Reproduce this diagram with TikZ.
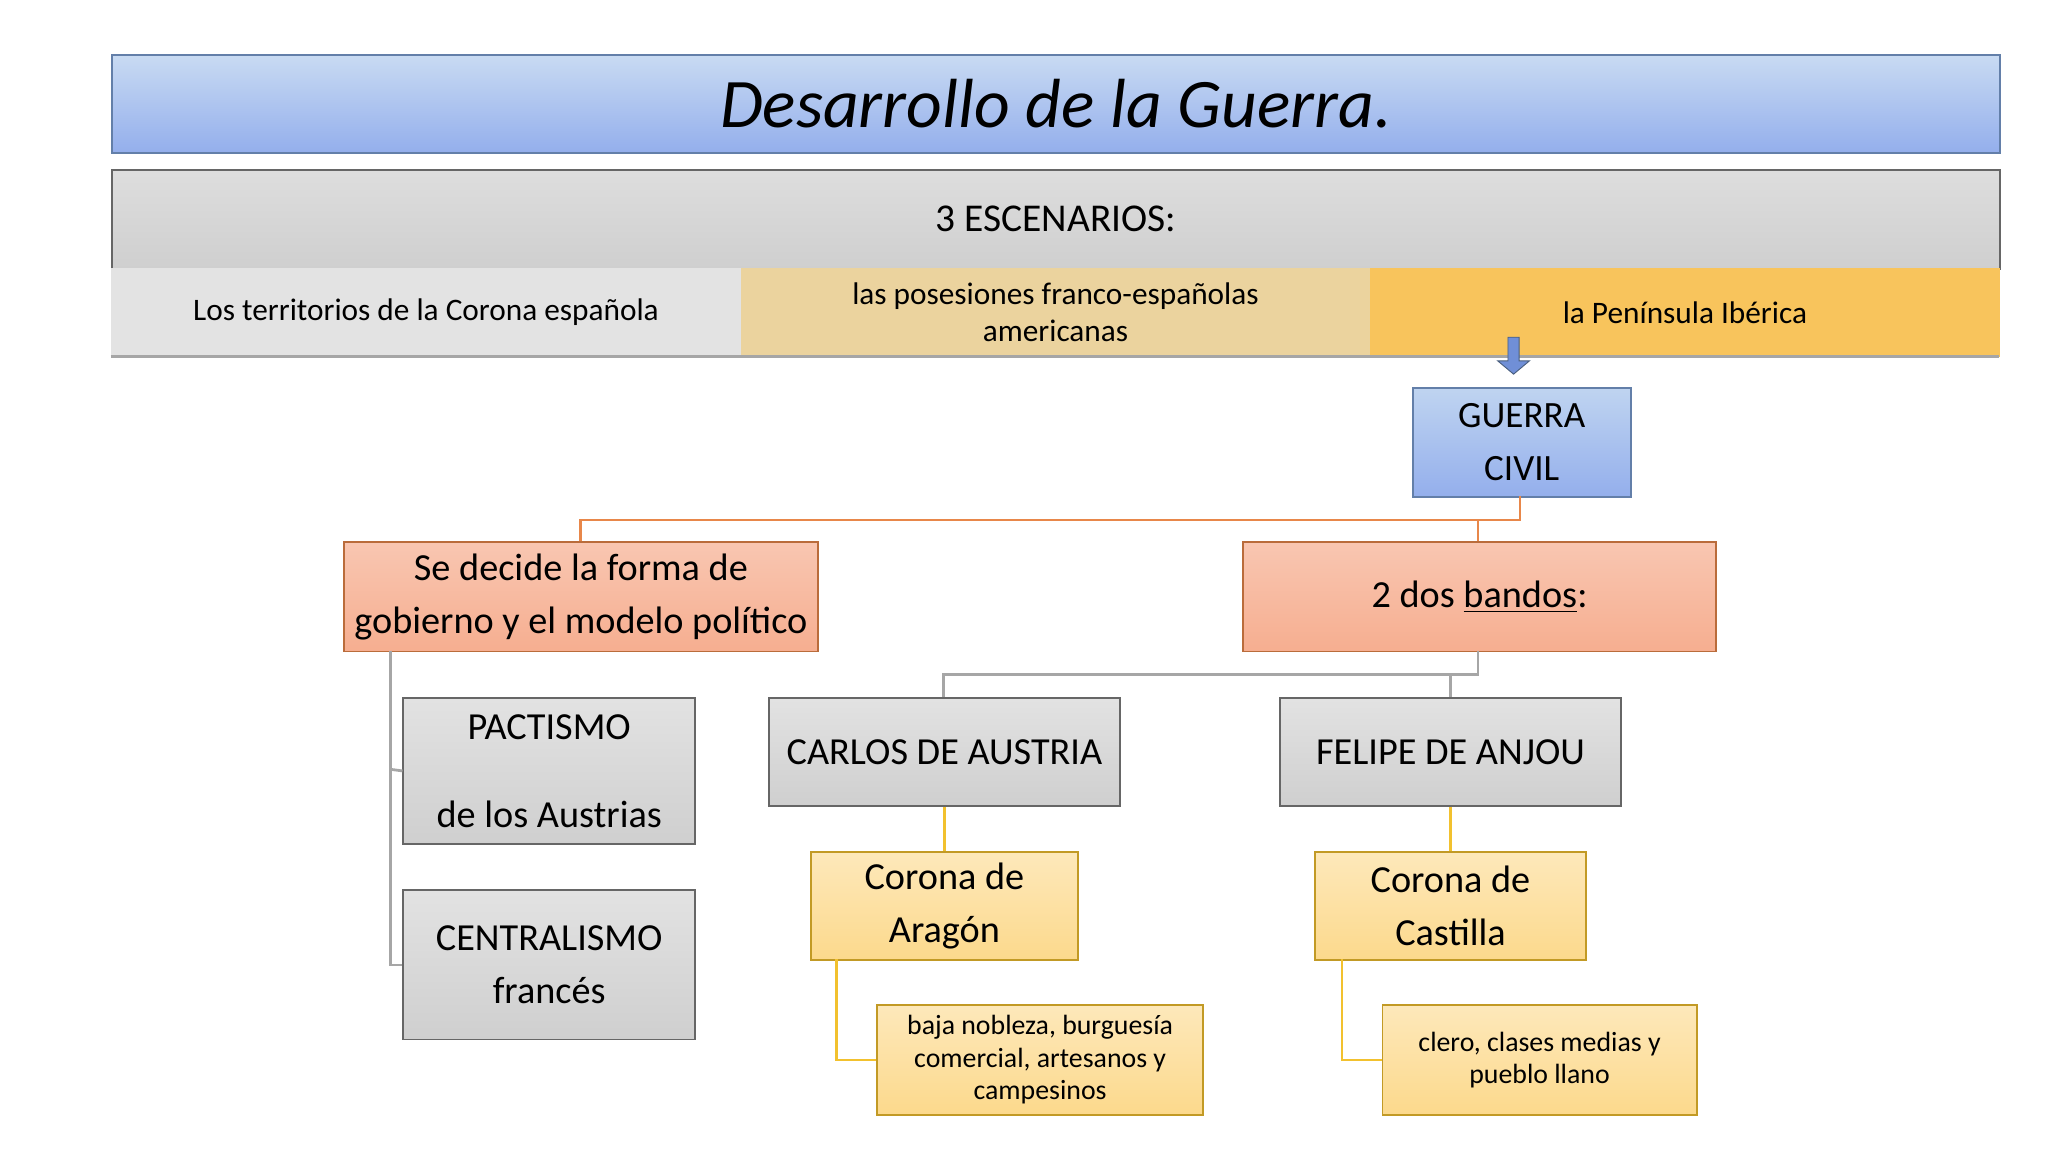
\documentclass[tikz,border=0pt]{standalone}
\usepackage{fontspec}
\setmainfont{Carlito}
\usetikzlibrary{positioning,shapes.arrows}
\definecolor{bluebox}{HTML}{A4C2EA}
\definecolor{blueline}{HTML}{7C9FD3}
\definecolor{salmon}{HTML}{F6AE90}
\definecolor{grayfill}{HTML}{CFCFCF}
\definecolor{yellowbox}{HTML}{FCD98C}
\definecolor{tanfill}{HTML}{EBD39E}
\definecolor{orangefill}{HTML}{F8C45C}
\definecolor{orangeline}{HTML}{E8874A}
\definecolor{yellowline}{HTML}{F2C12E}
\tikzset{
  boxnode/.style={draw=#1!80!black, line width=0.8pt, align=center, inner sep=0pt, anchor=north west},
  bluenode/.style={boxnode=blueline, top color=bluebox!70!white, bottom color=bluebox!90!blue, font=\fontsize{16}{23}\selectfont},
  salmonnode/.style={boxnode=orangeline, top color=salmon!70!white, bottom color=salmon, font=\fontsize{16.5}{23}\selectfont},
  graynode/.style={boxnode=gray, top color=grayfill!60!white, bottom color=grayfill, font=\fontsize{16.5}{23}\selectfont},
  yellownode/.style={boxnode=yellowline, top color=yellowbox!60!white, bottom color=yellowbox, font=\fontsize{16.5}{23}\selectfont},
  orangelink/.style={orangeline, line width=1pt},
  graylink/.style={gray!70, line width=1.2pt},
  yellowlink/.style={yellowline, line width=1pt},
}
\begin{document}
\begin{tikzpicture}[x=0.02cm,y=-0.02cm]
  \useasboundingbox[fill=white] (0,0) rectangle (1552,873);
  % title band
  \node[boxnode=blueline, top color=bluebox!60!white, bottom color=bluebox!90!blue,
    minimum width=1431*0.02cm, minimum height=74*0.02cm,
    font=\fontsize{30}{34}\itshape\selectfont] (title) at (84,41) {Desarrollo de la Guerra.};
  % scenarios
  \node[boxnode=gray, top color=grayfill!70!white, bottom color=grayfill,
    minimum width=1431*0.02cm, minimum height=75*0.02cm,
    font=\fontsize{17}{22}\selectfont] (esc) at (84,128) {3 ESCENARIOS:};
  \node[anchor=north west, fill=gray!22, minimum width=477*0.02cm, minimum height=67*0.02cm,
    inner sep=0pt, font=\fontsize{13.5}{16}\selectfont] (terr) at (84,203) {Los territorios de la Corona española};
  \node[anchor=north west, fill=tanfill, minimum width=477*0.02cm, minimum height=67*0.02cm,
    inner sep=0pt, align=center, font=\fontsize{13.5}{16}\selectfont] (pos) at (561,203) {las posesiones franco-españolas\\americanas};
  \node[anchor=north west, fill=orangefill, minimum width=477*0.02cm, minimum height=67*0.02cm,
    inner sep=0pt, font=\fontsize{13.5}{16}\selectfont] (pen) at (1038,203) {la Península Ibérica};
  \draw[gray!70, line width=1.2pt] (84,270) -- (1515,270);
  \node[single arrow, shape border rotate=270, fill=blueline!90!blue, draw=blueline!60!black,
    minimum height=28*0.02cm, minimum width=24*0.02cm, single arrow head extend=4pt,
    single arrow tip angle=100, inner sep=2pt, anchor=tip] (arr) at (1147,284) {};
  % nodes
  \node[bluenode, minimum width=165*0.02cm, minimum height=83*0.02cm] (guerra) at (1070,293) {GUERRA\\CIVIL};
  \node[salmonnode, minimum width=359*0.02cm, minimum height=83*0.02cm] (forma) at (260,410) {Se decide la forma de\\gobierno y el modelo político};
  \node[salmonnode, minimum width=359*0.02cm, minimum height=83*0.02cm] (bandos) at (941,410) {2 dos \underline{bandos}:};
  \node[graynode, minimum width=221*0.02cm, minimum height=111*0.02cm, font=\fontsize{16.5}{38}\selectfont] (pact) at (305,528) {PACTISMO\\de los Austrias};
  \node[graynode, minimum width=221*0.02cm, minimum height=113*0.02cm] (centr) at (305,674) {CENTRALISMO\\francés};
  \node[graynode, minimum width=266*0.02cm, minimum height=82*0.02cm] (carlos) at (582,528) {CARLOS DE AUSTRIA};
  \node[graynode, minimum width=259*0.02cm, minimum height=82*0.02cm] (felipe) at (969,528) {FELIPE DE ANJOU};
  \node[yellownode, minimum width=202*0.02cm, minimum height=82*0.02cm] (aragon) at (614,645) {Corona de\\Aragón};
  \node[yellownode, minimum width=205*0.02cm, minimum height=82*0.02cm] (castilla) at (996,645) {Corona de\\Castilla};
  \node[yellownode, minimum width=247*0.02cm, minimum height=83*0.02cm, font=\fontsize{12}{14}\selectfont] (baja) at (664,761) {baja nobleza, burguesía\\comercial, artesanos y\\campesinos};
  \node[yellownode, minimum width=238*0.02cm, minimum height=83*0.02cm, font=\fontsize{12}{14}\selectfont] (clero) at (1047,761) {clero, clases medias y\\pueblo llano};
  % connectors
  \draw[orangelink] (1152,376) |- (440,394) -- (440,410);
  \draw[orangelink] (1120,394) -- (1120,410);
  \draw[graylink] (1120,493) |- (715,511) -- (715,528);
  \draw[graylink] (1099,511) -- (1099,528);
  \draw[graylink] (296,493) |- (centr.west);
  \draw[graylink] (296,583) -- (pact.west);
  \draw[yellowlink] (carlos.south) -- (aragon.north);
  \draw[yellowlink] (felipe.south) -- (castilla.north);
  \draw[yellowlink] (634,727) |- (baja.west);
  \draw[yellowlink] (1017,727) |- (clero.west);
\end{tikzpicture}
\end{document}
